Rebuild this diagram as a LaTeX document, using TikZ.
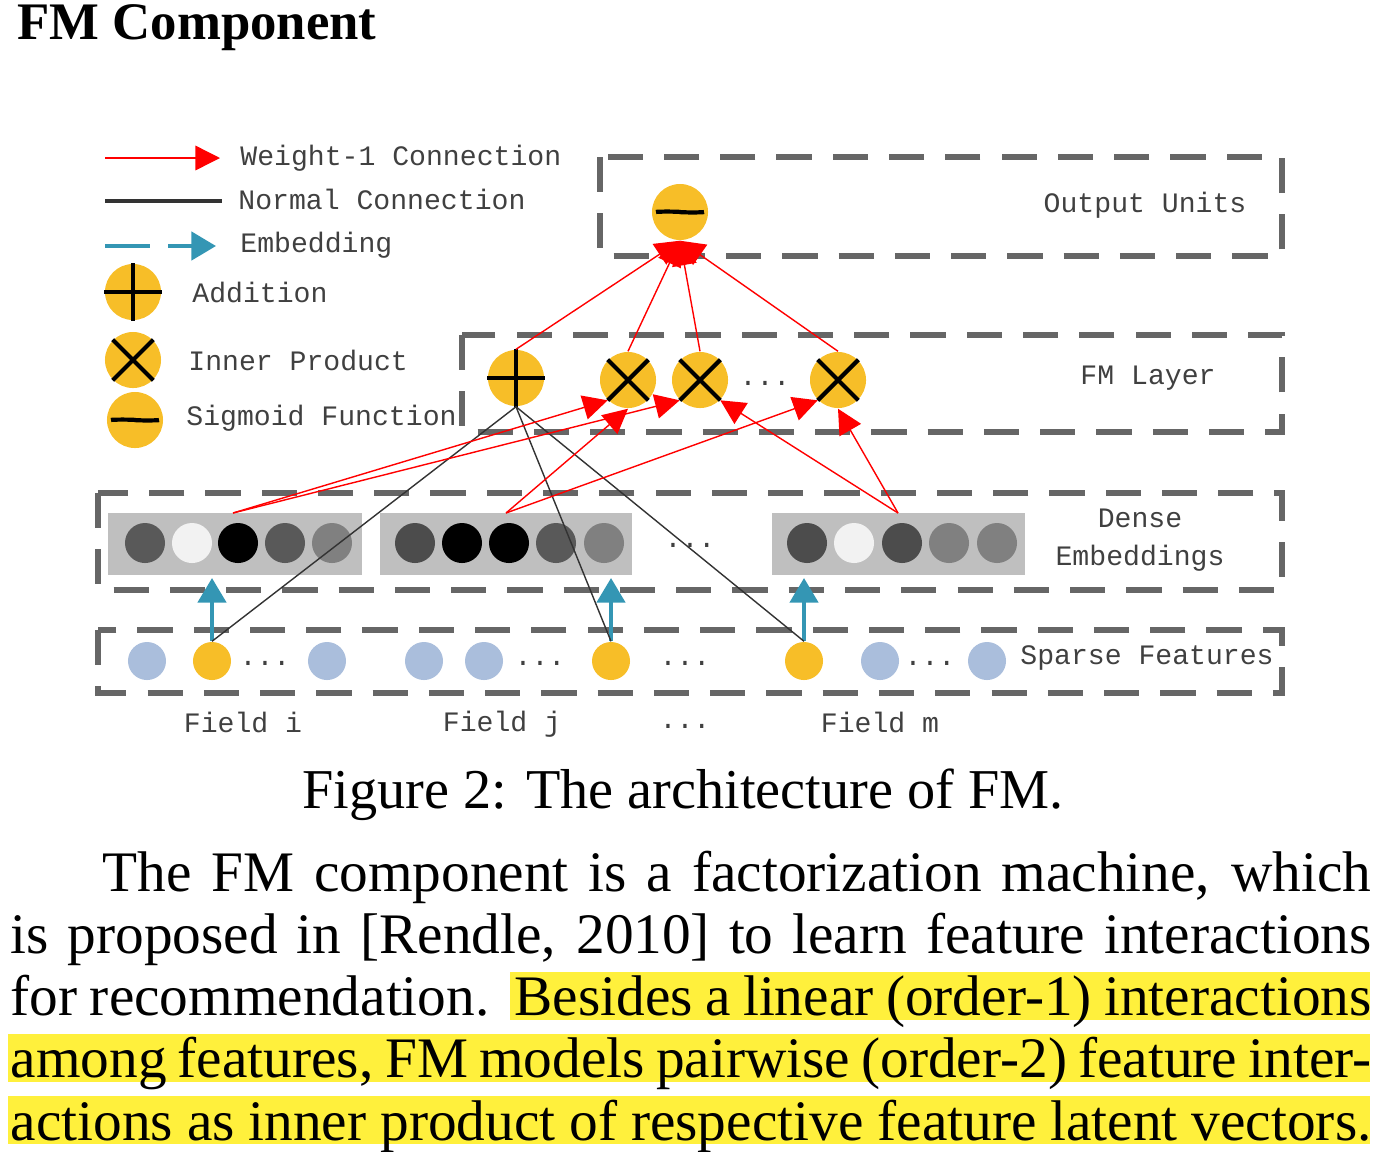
\documentclass[tikz,border=0pt]{standalone}
\usepackage{fontspec}
\setmainfont{Liberation Serif}
\setmonofont{Liberation Mono}
\usetikzlibrary{arrows.meta}
\definecolor{unitorange}{RGB}{247,190,40}
\definecolor{embteal}{RGB}{52,150,180}
\definecolor{sparseblue}{RGB}{170,190,220}
\definecolor{hilite}{RGB}{255,240,60}
\tikzset{
  unit/.style={circle, fill=unitorange, minimum size=0.56cm, inner sep=0pt},
  emb/.style={circle, minimum size=0.4cm, inner sep=0pt},
  sparse/.style={circle, minimum size=0.38cm, inner sep=0pt},
  layerbox/.style={draw=black!60, line width=1.6pt, dash pattern=on 10pt off 6pt},
  weight/.style={red, -{Triangle[length=7pt,width=7pt]}},
  normal/.style={black!80},
  embarrow/.style={embteal, line width=1.2pt, -{Triangle[length=7pt,width=8pt]}},
  lbl/.style={font=\ttfamily\fontsize{8}{9}\selectfont, text=black!75, anchor=west}
}
\begin{document}
\begin{tikzpicture}[x=0.01cm, y=-0.01cm]
      \useasboundingbox (0,0) rectangle (1374,1151);
      % title
      \node[anchor=west, font=\bfseries\fontsize{15}{17}\selectfont] (title) at (5,28) {FM Component};
      % legend
      \coordinate (lw1) at (105,158); \coordinate (lw2) at (220,158);
      \draw[weight] (lw1) -- (lw2);
      \node[lbl] (lwt) at (228,158) {Weight-1 Connection};
      \coordinate (ln1) at (105,201); \coordinate (ln2) at (222,201);
      \draw[normal, line width=1.2pt] (ln1) -- (ln2);
      \node[lbl] (lnt) at (226,199) {Normal Connection};
      \coordinate (le1) at (105,246); \coordinate (le2) at (150,246);
      \coordinate (le3) at (168,246); \coordinate (le4) at (216,246);
      \draw[embteal, line width=1.2pt] (le1) -- (le2);
      \draw[embarrow] (le3) -- (le4);
      \node[lbl] (let) at (228,245) {Embedding};
      \node[unit] (ladd) at (133,292) {};
      \draw[line width=1.2pt] (ladd.north) -- (ladd.south) (ladd.west) -- (ladd.east);
      \node[lbl] (laddt) at (180,292) {Addition};
      \node[unit] (lmul) at (133,360) {};
      \draw[line width=1.2pt] (lmul.north west) -- (lmul.south east) (lmul.north east) -- (lmul.south west);
      \node[lbl] (lmult) at (176,360) {Inner Product};
      \node[unit] (lsig) at (135,420) {};
      \draw[line width=1.2pt] ([xshift=-2.4mm]lsig.center) .. controls +(0.12,-0.6) and +(-0.12,-0.5) .. (lsig.center) .. controls +(0.12,0.5) and +(-0.12,0.6) .. ([xshift=2.4mm]lsig.center);
      \node[lbl] (lsigt) at (174,418) {Sigmoid Function};
      % output units
      \draw[layerbox] (600,157) rectangle (1282,256);
      \node[lbl, anchor=center] (outt) at (1145,205) {Output Units};
      \node[unit] (out) at (680,212) {};
      \draw[line width=1.2pt] ([xshift=-2.4mm]out.center) .. controls +(0.12,-0.6) and +(-0.12,-0.5) .. (out.center) .. controls +(0.12,0.5) and +(-0.12,0.6) .. ([xshift=2.4mm]out.center);
      % FM layer
      \draw[layerbox] (462,335) rectangle (1282,432);
      \node[lbl, anchor=center] (fmt) at (1148,378) {FM Layer};
      \node[unit] (add) at (516,378) {};
      \draw[line width=1.2pt] (add.north) -- (add.south) (add.west) -- (add.east);
      \foreach \n/\x in {m1/628, m2/700, m3/838} {
        \node[unit] (\n) at (\x,380) {};
        \draw[line width=1.2pt] (\n.north west) -- (\n.south east) (\n.north east) -- (\n.south west);
      }
      \node[lbl, anchor=center] (fmdots) at (765,383) {...};
      % dense embeddings
      \draw[layerbox] (98,493) rectangle (1282,590);
      \node[lbl, anchor=center, align=center] (dent) at (1140,540) {Dense\\[2pt]Embeddings};
      \fill[black!25] (108,513) rectangle (362,575);
      \fill[black!25] (380,513) rectangle (632,575);
      \fill[black!25] (772,513) rectangle (1025,575);
      \foreach \x/\c in {145/black!65, 192/black!5, 238/black, 285/black!65, 332/black!50,
                         415/black!70, 462/black, 509/black, 556/black!65, 604/black!50,
                         807/black!70, 854/black!5, 902/black!70, 949/black!50, 997/black!50}
        \node[emb, fill=\c] at (\x,543) {};
      \node[lbl, anchor=center] (dendots) at (690,545) {...};
      \coordinate (src1) at (233,513);
      \coordinate (src2) at (506,513);
      \coordinate (src3) at (898,513);
      % sparse features
      \draw[layerbox] (98,630) rectangle (1282,693);
      \node[lbl, anchor=center] (spt) at (1147,658) {Sparse Features};
      \foreach \x in {147, 327, 424, 484, 880, 987}
        \node[sparse, fill=sparseblue] at (\x,661) {};
      \node[sparse, fill=unitorange] (fi) at (212,661) {};
      \node[sparse, fill=unitorange] (fj) at (611,661) {};
      \node[sparse, fill=unitorange] (fm) at (804,661) {};
      \foreach \x in {265, 540, 685, 930}
        \node[lbl, anchor=center] at (\x,663) {...};
      % field labels
      \node[lbl, anchor=center] (fit) at (243,722) {Field i};
      \node[lbl, anchor=center] (fjt) at (502,724) {Field j};
      \node[lbl, anchor=center] (fdots) at (685,726) {...};
      \node[lbl, anchor=center] (fmt2) at (880,722) {Field m};
      % embedding arrows
      \foreach \f/\x in {fi/212, fj/611, fm/804}
        \draw[embarrow] (\f.north) -- (\x,578);
      % normal connections
      \foreach \f in {fi, fj, fm}
        \draw[normal] (add.south) -- (\f.north);
      % weight-1 connections
      \draw[weight] (src1) -- (m1.south west);
      \draw[weight] (src1) -- (m2.south west);
      \draw[weight] (src2) -- (m1.south);
      \draw[weight] (src2) -- (m3.south west);
      \draw[weight] (src3) -- (m2.south east);
      \draw[weight] (src3) -- (m3.south);
      \foreach \n in {add, m1, m2, m3}
        \draw[weight] (\n.north) -- (out.south);
      % caption and text
      \node[font=\fontsize{16}{18}\selectfont] (cap) at (683,795) {Figure 2: The architecture of FM.};
      \fill[hilite] (510,972) rectangle (1370,1020);
      \fill[hilite] (8,1034) rectangle (1370,1082);
      \fill[hilite] (8,1096) rectangle (1370,1144);
      \node[anchor=north west, text width=13.6cm, align=justify, inner sep=0pt,
            font=\fontsize{16.3}{17.7}\selectfont] (para) at (10,850)
        {\hspace*{1.6em}The FM component is a factorization machine, which\linebreak
         is proposed in [Rendle, 2010] to learn feature interactions\linebreak
         for recommendation.\ \ Besides a linear (order-1) interactions\linebreak
         among features, FM models pairwise (order-2) feature inter-\linebreak
         actions as inner product of respective feature latent vectors.};
\end{tikzpicture}
\end{document}
